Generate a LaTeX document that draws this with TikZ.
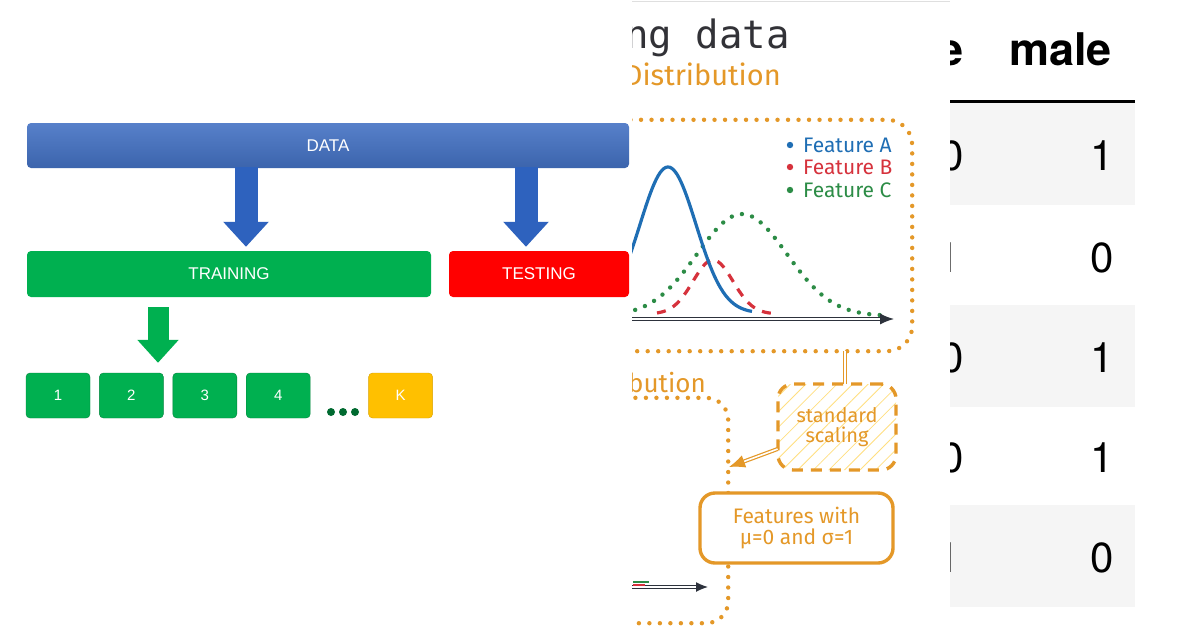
\documentclass[tikz,border=0pt]{standalone}
\usepackage{fontspec}
\setmainfont{Liberation Sans}
\newfontfamily\tablefont{TeX Gyre Heros}
\newfontfamily\handfont{Fira Sans}
\newfontfamily\codefont{DejaVu Sans Mono}
\usetikzlibrary{positioning}
\usetikzlibrary{arrows.meta, patterns.meta}
\definecolor{barblue}{RGB}{68,114,196}
\definecolor{arrblue}{RGB}{46,98,190}
\definecolor{fgreen}{RGB}{0,176,80}
\definecolor{fred}{RGB}{255,0,0}
\definecolor{fyellow}{RGB}{255,192,0}
\definecolor{sketchorange}{RGB}{228,152,40}
\definecolor{curveblue}{RGB}{31,110,180}
\definecolor{curvered}{RGB}{214,50,60}
\definecolor{curvegreen}{RGB}{44,140,70}
\definecolor{axisgray}{RGB}{45,50,60}
\definecolor{titlegray}{RGB}{50,50,55}
\definecolor{rowgray}{RGB}{245,245,245}

\begin{document}
\begin{tikzpicture}[x=1pt, y=-1pt,
  bar/.style={text=white, minimum height=46pt, inner sep=0pt, rounded corners=4pt, font=\fontsize{17}{17}\selectfont},
  fold/.style={fill=fgreen, draw=fgreen!75!black, minimum width=64pt, minimum height=45pt, inner sep=0pt, rounded corners=4pt, text=white, font=\fontsize{15}{15}\selectfont},
  blk/.style={line width=23pt, -{Triangle[length=25pt,width=44pt]}},
  hand/.style={font=\handfont\fontsize{#1}{#1}\selectfont, text=sketchorange},
  dotline/.style={sketchorange, line width=4.4pt, line cap=round, dash pattern=on 0pt off 10.5pt},
  axis/.style={axisgray, double=white, double distance=1.6pt, line width=1.3pt, -{Latex[length=14pt,width=11pt]}},
  cell/.style={anchor=base east, inner sep=0pt, font=\tablefont\fontsize{42}{42}\selectfont}]
\useasboundingbox (0,0) rectangle (1200,630);
\fill[white] (0,0) rectangle (1200,630);

\begin{scope}
  \clip (0,0) rectangle (631,630);
  \node[bar, top color=barblue!90!white, bottom color=barblue!88!black, minimum width=602pt, minimum height=45pt] (data) at (328,145.5) {DATA};
  \node[bar, fill=fgreen, minimum width=404pt] (training) at (229,274) {TRAINING};
  \node[bar, fill=fred, minimum width=180pt] (testing) at (539,274) {TESTING};
  \draw[blk, arrblue, shorten <=-1pt, shorten >=4pt] (data.south -| 246,0) -- (training.north -| 246,0);
  \draw[blk, arrblue, shorten <=-1pt, shorten >=4pt] (data.south -| 526,0) -- (testing.north -| 526,0);
  \node[fold] (b1) at (58,395.5) {1};
  \node[fold, right=9pt of b1] (b2) {2};
  \node[fold, right=9pt of b2] (b3) {3};
  \node[fold, right=9pt of b3] (b4) {4};
  \node[fold, fill=fyellow, draw=fyellow!85!black, right=58pt of b4] (bk) {K};
  \draw[line width=21pt, fgreen, -{Triangle[length=23pt,width=40pt]}, shorten <=10pt, shorten >=10pt] (training.south -| 158,0) -- (b2.north -| 158,0);
  \foreach \i in {0,1,2} \fill[fgreen!60!black] (331+12*\i,412) circle (4pt);
\end{scope}

\begin{scope}
  \clip (632,0) rectangle (950,630);
  \draw[gray!25, line width=1pt] (632,1) -- (950,1);
  \node[anchor=base east, inner sep=0pt, font=\codefont\fontsize{39}{39}\selectfont, text=titlegray] (title) at (790,48) {ng data};
  \node[hand=29, anchor=base east, inner sep=0pt] (dist) at (781,85) {Distribution};
  \node[draw=none, minimum width=352pt, minimum height=231pt] (distbox) at (736,235.5) {};
  \draw[dotline, rounded corners=25pt] (distbox.north west) rectangle (distbox.south east);
  \foreach \c/\t/\y in {curveblue/A/145, curvered/B/167, curvegreen/C/190} {
    \fill[\c] (790,\y) circle (3.2pt);
    \node[anchor=west, inner sep=0pt, text=\c, font=\handfont\fontsize{21}{21}\selectfont] (leg\t) at (803,\y) {Feature \t};
  }
  \draw[curvegreen, line width=4.4pt, line cap=round, dash pattern=on 0pt off 10.5pt] plot[domain=625:885, samples=80] (\x, {316-102*exp(-0.5*((\x-742)/45)^2)});
  \draw[curvered, line width=3.2pt, dash pattern=on 9pt off 8pt] plot[domain=657:772, samples=50] (\x, {314-54*exp(-0.5*((\x-713)/20)^2)});
  \draw[curveblue, line width=3.2pt] plot[domain=620:752, samples=70] (\x, {313-146*exp(-0.5*((\x-668)/28)^2)});
  \coordinate (ax0) at (620,319);
  \coordinate (ax1) at (894,319);
  \draw[axis] (ax0) -- (ax1);
  \node[hand=26, anchor=base east, inner sep=0pt] (dist2) at (706,392) {Distribution};
  \node[draw=none, minimum width=168pt, minimum height=225pt] (distbox2) at (644,510.5) {};
  \draw[dotline, rounded corners=22pt] (distbox2.north west) rectangle (distbox2.south east);
  \node[draw=sketchorange, line width=3.4pt, dash pattern=on 11pt off 8pt, rounded corners=15pt, minimum width=118pt, minimum height=86pt, pattern={Lines[angle=45, distance=11pt, line width=0.8pt]}, pattern color=fyellow!50, align=center, hand=20] (scale) at (837,427) {standard\\scaling};
  \draw[sketchorange, double=white, double distance=1.6pt, line width=1.2pt] (distbox.south -| 845,0) -- (scale.north -| 845,0);
  \coordinate (in2) at (729,467);
  \draw[sketchorange, double=white, double distance=1.6pt, line width=1.2pt, -{Latex[length=16pt,width=13pt]}] (scale.west |- 0,449) -- (in2);
  \node[draw=sketchorange, line width=3.4pt, rounded corners=15pt, minimum width=193pt, minimum height=70pt, fill=white, align=center, hand=21] (feat) at (796.5,528) {Features with\\μ=0 and σ=1};
  \coordinate (bx0) at (620,587);
  \coordinate (bx1) at (708,587);
  \draw[axis, -{Latex[length=12pt,width=10pt]}] (bx0) -- (bx1);
  \draw[curvegreen, line width=2pt] (633,582) -- (649,582);
  \draw[curvered, line width=2pt] (633,585) -- (645,585);
\end{scope}

\begin{scope}
  \clip (950,0) rectangle (1200,630);
  \foreach \y in {103,305,505} \fill[rowgray] (950,\y) rectangle (1135,\y+102);
  \draw[line width=3pt] (950,101) -- (1135,101);
  \node[anchor=base east, inner sep=0pt, font=\tablefont\bfseries\fontsize{45}{45}\selectfont] (hmale) at (1112,65) {male};
  \node[anchor=base east, inner sep=0pt, font=\tablefont\bfseries\fontsize{45}{45}\selectfont] (hleft) at (964,65) {e};
  \foreach \v/\w/\s/\b [count=\i] in {1/0/964/170, 0/1/960/272, 1/0/964/372, 1/0/964/472, 0/1/960/572} {
    \node[cell] (v\i) at (1114,\b) {\v};
    \node[cell] (w\i) at (\s,\b) {\w};
  }
\end{scope}
\end{tikzpicture}
\end{document}
